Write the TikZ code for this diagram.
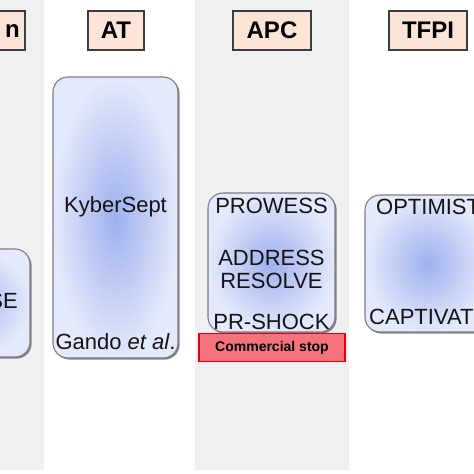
\documentclass[tikz,border=0pt]{standalone}
\usepackage{fontspec}
\setmainfont{Liberation Sans}
\usetikzlibrary{shadows}
\definecolor{stripe}{RGB}{240,240,242}
\definecolor{peach}{RGB}{252,228,214}
\definecolor{hdrline}{RGB}{60,60,60}
\definecolor{boxin}{RGB}{158,176,238}
\definecolor{boxout}{RGB}{228,233,251}
\definecolor{boxline}{RGB}{125,125,135}
\definecolor{stopfill}{RGB}{246,115,125}
\definecolor{stopline}{RGB}{225,0,10}
\tikzset{
  hdr/.style={draw=hdrline, line width=1.3pt, fill=peach, minimum height=39pt, inner sep=0pt,
    font=\fontsize{24}{26}\selectfont\bfseries},
  trialbox/.style={rounded corners=15pt, draw=boxline, line width=1.1pt, inner color=boxin, outer color=boxout,
    drop shadow={shadow xshift=1.6pt, shadow yshift=-1.6pt, fill=black!60, opacity=0.8}, inner sep=0pt},
  lbl/.style={font=\fontsize{22}{24}\selectfont, inner sep=0pt, text=black!92},
  stopbox/.style={draw=stopline, line width=1.6pt, fill=stopfill, inner sep=0pt,
    font=\fontsize{14}{16}\selectfont\bfseries}
}
\begin{document}
\begin{tikzpicture}[x=1pt,y=-1pt]
\useasboundingbox (0,0) rectangle (474,474);
\clip (0,0) rectangle (474,474);
\fill[white] (0,0) rectangle (474,474);
% stripes
\fill[stripe] (0,0) rectangle (44,470);
\fill[stripe] (195,0) rectangle (349,470);
% headers
\node[hdr, minimum width=110pt] (h0) at (-30,30.5) {};
\node[font=\fontsize{24}{26}\selectfont\bfseries, inner sep=0pt, anchor=east] (h0t) at (20,31) {n};
\node[hdr, minimum width=56pt] (h1) at (116,30.5) {AT};
\node[hdr, minimum width=78pt] (h2) at (272,30.5) {APC};
\node[hdr, minimum width=78pt] (h3) at (428,30.5) {TFPI};
% boxes
\node[trialbox, minimum width=125pt, minimum height=108pt] (b0) at (-32.5,303) {};
\node[lbl, anchor=east] (b0t) at (18,301) {SE};
\node[trialbox, minimum width=125pt, minimum height=281pt] (b1) at (115.5,217.5) {};
\node[lbl] (b1a) at (115.5,207) {KyberSept};
\node[lbl] (b1b) at (115.5,342) {Gando \textit{et al}.};
\node[trialbox, minimum width=127pt, minimum height=139pt] (b2) at (271.5,262.5) {};
\node[lbl] (b2a) at (271.5,206) {PROWESS};
\node[lbl] (b2b) at (271.5,258) {ADDRESS};
\node[lbl] (b2c) at (271.5,281) {RESOLVE};
\node[lbl] (b2d) at (271.5,322) {PR-SHOCK};
\node[stopbox, minimum width=146pt, minimum height=28pt] (st) at (272,347.5) {Commercial stop};
\node[trialbox, minimum width=125pt, minimum height=137pt] (b3) at (427.5,263.5) {};
\node[lbl, anchor=west] (b3a) at (376,207) {OPTIMIST};
\node[lbl, anchor=west] (b3b) at (369,317) {CAPTIVATE};
\end{tikzpicture}
\end{document}
